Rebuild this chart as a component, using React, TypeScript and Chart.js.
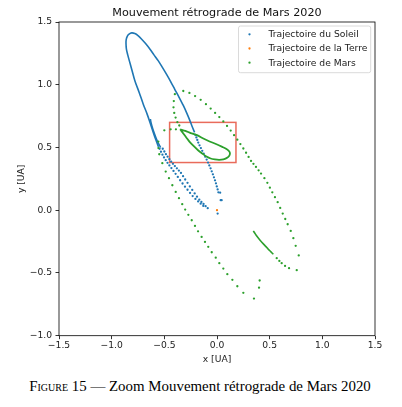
import React, { useEffect, useRef } from 'react';
import { Chart, registerables } from 'chart.js';

Chart.register(...registerables);

type Pt = [number, number];

const chartTitle = 'Mouvement rétrograde de Mars 2020';
const seriesLabels = ['Trajectoire du Soleil', 'Trajectoire de la Terre', 'Trajectoire de Mars'];
const seriesColors = ['#1f77b4', '#ff7f0e', '#2ca02c'];
const xLabel = 'x [UA]';
const yLabel = 'y [UA]';
const xTicks = [-1.5, -1.0, -0.5, 0.0, 0.5, 1.0, 1.5];
const yTicks = [-1.0, -0.5, 0.0, 0.5, 1.0, 1.5];
// zoom rectangle: [xmin, xmax, ymin, ymax]
const zoomBox = [-0.45, 0.18, 0.38, 0.70];
const captionLabel = 'Figure 15';
const captionText = 'Zoom Mouvement rétrograde de Mars 2020';

// Sun: dense (continuous-looking) parts of the trajectory
const sunDenseOuter: Pt[] = [
  [-0.213, 0.62], [-0.235, 0.665], [-0.26, 0.72], [-0.29, 0.78], [-0.32, 0.835], [-0.36, 0.9],
  [-0.4, 0.962], [-0.44, 1.025], [-0.48, 1.084], [-0.52, 1.14], [-0.557, 1.19], [-0.6, 1.24],
  [-0.636, 1.283], [-0.68, 1.33], [-0.715, 1.363], [-0.75, 1.392], [-0.78, 1.408], [-0.81, 1.413],
  [-0.835, 1.403], [-0.852, 1.386], [-0.862, 1.36], [-0.864, 1.33], [-0.86, 1.283], [-0.848, 1.24],
  [-0.832, 1.19], [-0.81, 1.124], [-0.779, 1.03], [-0.738, 0.937], [-0.7, 0.845], [-0.665, 0.77],
  [-0.636, 0.7], [-0.605, 0.62], [-0.578, 0.555], [-0.555, 0.505],
];
const sunDenseInner: Pt[] = [
  [-0.632, 0.727], [-0.628, 0.705], [-0.617, 0.67], [-0.6, 0.625], [-0.58, 0.58], [-0.56, 0.54], [-0.535, 0.5],
];
// Sun: separated dots
const sunDots: Pt[] = [
  // right branch
  [-0.205, 0.6], [-0.196, 0.58], [-0.187, 0.56], [-0.178, 0.539], [-0.166, 0.517], [-0.153, 0.495],
  [-0.14, 0.473], [-0.126, 0.45], [-0.112, 0.427], [-0.098, 0.404], [-0.085, 0.38], [-0.073, 0.357],
  [-0.061, 0.334], [-0.05, 0.31], [-0.039, 0.286], [-0.029, 0.262], [-0.019, 0.238], [-0.01, 0.214],
  [-0.002, 0.19], [0.006, 0.166], [0.013, 0.143], [0.03, 0.14], [0.035, 0.08], [0.044, 0.08], [0.006, -0.027],
  // left outer line
  [-0.545, 0.49], [-0.532, 0.466], [-0.518, 0.443], [-0.503, 0.421], [-0.487, 0.399], [-0.47, 0.378],
  [-0.452, 0.357], [-0.433, 0.336], [-0.413, 0.313], [-0.393, 0.29], [-0.372, 0.265], [-0.35, 0.239],
  [-0.327, 0.213], [-0.304, 0.188], [-0.28, 0.163], [-0.256, 0.138], [-0.231, 0.113], [-0.205, 0.09],
  [-0.179, 0.07], [-0.155, 0.052], [-0.13, 0.034],
  // left inner line
  [-0.515, 0.49], [-0.5, 0.468], [-0.485, 0.447], [-0.469, 0.427], [-0.452, 0.407], [-0.435, 0.388],
  [-0.418, 0.37], [-0.4, 0.352], [-0.381, 0.334], [-0.362, 0.316], [-0.342, 0.297], [-0.322, 0.271],
  [-0.302, 0.245], [-0.28, 0.218], [-0.258, 0.19], [-0.235, 0.162], [-0.212, 0.134], [-0.19, 0.108],
  [-0.168, 0.084], [-0.148, 0.066], [-0.128, 0.05], [-0.108, 0.032], [-0.088, 0.016],
];
const earthDots: Pt[] = [[0, 0]];
// Mars: dense parts
const marsDenseLoop: Pt[] = [
  [-0.35, 0.645], [-0.3, 0.632], [-0.25, 0.615], [-0.19, 0.598], [-0.13, 0.572], [-0.07, 0.548],
  [-0.01, 0.528], [0.05, 0.505], [0.09, 0.488], [0.115, 0.47], [0.123, 0.452], [0.115, 0.432],
  [0.09, 0.415], [0.06, 0.405], [0.02, 0.402], [-0.02, 0.405], [-0.06, 0.412], [-0.1, 0.428],
  [-0.14, 0.452], [-0.18, 0.478], [-0.22, 0.51], [-0.26, 0.545], [-0.29, 0.578], [-0.32, 0.612], [-0.35, 0.645],
];
const marsDenseArc: Pt[] = [
  [0.345, -0.165], [0.358, -0.182], [0.372, -0.2], [0.392, -0.222], [0.415, -0.245], [0.44, -0.268],
  [0.465, -0.29], [0.487, -0.311], [0.51, -0.33], [0.535, -0.351],
];
// Mars: separated dots
const marsDots: Pt[] = [
  [-0.4, 0.925], [-0.41, 0.87], [-0.413, 0.82], [-0.406, 0.775], [-0.393, 0.738], [-0.376, 0.702], [-0.358, 0.675],
  [-0.32, 0.95], [-0.262, 0.935], [-0.208, 0.91], [-0.155, 0.88], [-0.105, 0.845], [-0.06, 0.81],
  [-0.018, 0.775], [0.022, 0.742], [0.06, 0.708], [0.095, 0.672], [0.13, 0.635], [0.162, 0.598],
  [0.193, 0.562], [0.222, 0.527], [0.25, 0.492], [0.276, 0.458], [0.3, 0.425], [0.323, 0.393],
  [0.346, 0.37], [0.37, 0.345], [0.395, 0.318], [0.418, 0.292], [0.45, 0.255], [0.478, 0.218],
  [0.502, 0.18], [0.525, 0.143], [0.55, 0.104], [0.576, 0.064], [0.6, 0.018], [0.624, -0.027],
  [0.648, -0.07], [0.671, -0.112], [0.7, -0.165], [0.725, -0.223], [0.747, -0.284], [0.776, -0.36],
  [0.757, -0.478], [0.684, -0.462], [0.646, -0.444], [0.614, -0.422], [0.592, -0.404], [0.567, -0.382],
  [-0.39, 0.645], [-0.44, 0.645], [-0.5, 0.637], [-0.557, 0.547], [-0.556, 0.495], [-0.548, 0.446],
  [-0.519, 0.375], [-0.487, 0.308], [-0.456, 0.255], [-0.424, 0.199], [-0.392, 0.146], [-0.361, 0.096],
  [-0.33, 0.048], [-0.302, 0.005], [-0.272, -0.037], [-0.24, -0.08], [-0.209, -0.125], [-0.18, -0.168],
  [-0.146, -0.213], [-0.114, -0.253], [-0.083, -0.292], [-0.05, -0.335], [-0.012, -0.378], [0.022, -0.422],
  [0.06, -0.465], [0.098, -0.51], [0.146, -0.555], [0.193, -0.606], [0.25, -0.658], [0.351, -0.704],
  [0.399, -0.617], [0.405, -0.56],
];

const toXY = (pts: Pt[]) => pts.map(([x, y]) => ({ x, y }));
const fmt = (v: number) => v.toFixed(1).replace('-', '\u2212');
const FONT = "'DejaVu Sans', sans-serif";

export default function App() {
  const ref = useRef<HTMLCanvasElement>(null);

  useEffect(() => {
    const canvas = ref.current;
    if (!canvas) return;

    const dots = (label: string, pts: Pt[], color: string, order: number) => ({
      label, data: toXY(pts), showLine: false, pointRadius: 1.15, pointHoverRadius: 0,
      pointBorderWidth: 0, backgroundColor: color, borderColor: color, order,
    });
    const line = (pts: Pt[], color: string, order: number, width: number) => ({
      label: '', data: toXY(pts), showLine: true, pointRadius: 0, pointHoverRadius: 0,
      borderWidth: width, borderColor: color, backgroundColor: color, tension: 0.3, fill: false, order,
    });

    const decor = {
      id: 'decor',
      beforeDatasetsDraw(chart: any) {
        const { ctx, scales } = chart;
        const x0 = scales.x.getPixelForValue(zoomBox[0]);
        const x1 = scales.x.getPixelForValue(zoomBox[1]);
        const y0 = scales.y.getPixelForValue(zoomBox[2]);
        const y1 = scales.y.getPixelForValue(zoomBox[3]);
        ctx.save();
        ctx.strokeStyle = 'rgba(228, 70, 50, 0.8)';
        ctx.lineWidth = 1.5;
        ctx.strokeRect(x0, y1, x1 - x0, y0 - y1);
        ctx.restore();
      },
      afterDatasetsDraw(chart: any) {
        const { ctx, chartArea: a } = chart;
        ctx.save();
        ctx.strokeStyle = '#000';
        ctx.lineWidth = 0.8;
        ctx.strokeRect(a.left, a.top, a.right - a.left, a.bottom - a.top);
        ctx.restore();
      },
      afterDraw(chart: any) {
        const { ctx, chartArea: a } = chart;
        ctx.save();
        // title
        ctx.fillStyle = '#111';
        ctx.font = `11.2px ${FONT}`;
        ctx.textAlign = 'center';
        ctx.textBaseline = 'alphabetic';
        ctx.fillText(chartTitle, (a.left + a.right) / 2, a.top - 6.5);
        // legend
        ctx.font = `9.2px ${FONT}`;
        const tw = Math.max(...seriesLabels.map((s) => ctx.measureText(s).width));
        const boxR = a.right - 4.3;
        const textX = boxR - 3.3 - tw;
        const markX = textX - 19;
        const boxL = markX - 11;
        const boxT = a.top + 4;
        const rowH = 14.2;
        const firstRow = boxT + 8.3;
        const boxB = firstRow + rowH * (seriesLabels.length - 1) + 10;
        ctx.beginPath();
        (ctx as any).roundRect(boxL, boxT, boxR - boxL, boxB - boxT, 2);
        ctx.fillStyle = 'rgba(255,255,255,0.8)';
        ctx.fill();
        ctx.strokeStyle = '#d0d0d0';
        ctx.lineWidth = 0.8;
        ctx.stroke();
        ctx.textAlign = 'left';
        ctx.textBaseline = 'middle';
        seriesLabels.forEach((s, i) => {
          const y = firstRow + i * rowH;
          ctx.fillStyle = seriesColors[i];
          ctx.beginPath();
          ctx.arc(markX, y, 1.15, 0, Math.PI * 2);
          ctx.fill();
          ctx.fillStyle = '#222';
          ctx.fillText(s, textX, y + 0.5);
        });
        ctx.restore();
      },
    };

    const axisCommon = (ticksArr: number[]) => ({
      type: 'linear' as const,
      afterBuildTicks: (scale: any) => {
        scale.ticks = ticksArr.map((v) => ({ value: v }));
      },
      grid: {
        display: true, drawOnChartArea: false, drawTicks: true,
        tickLength: 3.5, tickColor: '#000', tickWidth: 0.8,
      },
      border: { display: false },
    });

    const chart = new Chart(canvas, {
      type: 'scatter',
      data: {
        datasets: [
          dots(seriesLabels[2], marsDots, seriesColors[2], 0),
          line(marsDenseLoop, seriesColors[2], 0, 1.8),
          line(marsDenseArc, seriesColors[2], 0, 1.6),
          dots(seriesLabels[1], earthDots, seriesColors[1], 1),
          dots(seriesLabels[0], sunDots, seriesColors[0], 2),
          line(sunDenseOuter, seriesColors[0], 2, 1.6),
          line(sunDenseInner, seriesColors[0], 2, 1.5),
        ] as any,
      },
      options: {
        responsive: false,
        animation: false,
        events: [],
        layout: { padding: { top: 22, right: 27, left: 0, bottom: 0 } },
        plugins: {
          legend: { display: false },
          title: { display: false },
          tooltip: { enabled: false },
        },
        scales: {
          x: {
            ...axisCommon(xTicks),
            position: 'bottom',
            min: xTicks[0], max: xTicks[xTicks.length - 1],
            afterFit: (s: any) => { s.height = 32.3; },
            ticks: {
              font: { size: 9.2, family: FONT }, color: '#222', padding: 1.3,
              callback: (v: any) => fmt(Number(v)), maxRotation: 0, autoSkip: false,
            },
            title: {
              display: true, text: xLabel, color: '#222',
              font: { size: 9.2, family: FONT }, padding: { top: 0, bottom: 2.5 },
            },
          },
          y: {
            ...axisCommon(yTicks),
            position: 'left',
            min: yTicks[0], max: yTicks[yTicks.length - 1],
            afterFit: (s: any) => { s.width = 59; },
            ticks: {
              font: { size: 9.2, family: FONT }, color: '#222', padding: 3.5,
              callback: (v: any) => fmt(Number(v)), autoSkip: false,
            },
            title: {
              display: true, text: yLabel, color: '#222',
              font: { size: 9.2, family: FONT }, padding: { top: 16.5, bottom: 0 },
            },
          },
        },
      } as any,
      plugins: [decor],
    });
    return () => chart.destroy();
  }, []);

  return (
    <div style={{ position: 'absolute', left: 0, top: 0, width: 402, height: 407, background: '#fff', overflow: 'hidden' }}>
      <canvas ref={ref} width={402} height={368} style={{ display: 'block', width: 402, height: 368 }} />
      <div
        style={{
          position: 'absolute', left: 0, top: 376, width: 400, textAlign: 'center',
          fontFamily: "'Liberation Serif', 'DejaVu Serif', serif", fontSize: 14.9, lineHeight: '20px', color: '#000',
        }}
      >
        <span style={{ fontVariant: 'small-caps' }}>{captionLabel}</span>
        <span>{' \u2014 '}</span>
        <span>{captionText}</span>
      </div>
    </div>
  );
}
